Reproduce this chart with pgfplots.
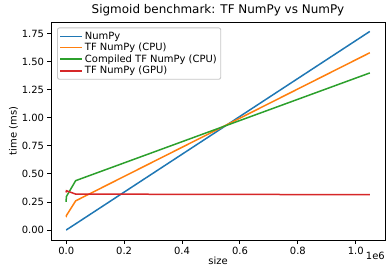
\documentclass[border=0pt]{standalone}
\usepackage{pgfplots}
\pgfplotsset{compat=1.18}
\usepackage{fontspec}
\setmainfont{DejaVu Sans}
\definecolor{tabblue}{HTML}{1F77B4}
\definecolor{taborange}{HTML}{FF7F0E}
\definecolor{tabgreen}{HTML}{2CA02C}
\definecolor{tabred}{HTML}{D62728}
\begin{document}
\begin{tikzpicture}
\begin{axis}[
  at={(0,0)}, anchor=south west,
  scale only axis,
  width=334bp, height=218bp,
  xmin=-52428, xmax=1101004,
  ymin=-0.089, ymax=1.854,
  scaled x ticks=false,
  xtick={0,200000,400000,600000,800000,1000000},
  xticklabels={0.0,0.2,0.4,0.6,0.8,1.0},
  ytick={0,0.25,0.5,0.75,1.0,1.25,1.5,1.75},
  yticklabels={0.00,0.25,0.50,0.75,1.00,1.25,1.50,1.75},
  tick align=outside, tick pos=left,
  major tick length=3.5bp,
  every tick/.style={black, line width=0.9bp},
  axis line style={black, line width=0.9bp},
  /pgf/number format/assume math mode=true,
  tick label style={font=\fontsize{10}{12}\selectfont},
  label style={font=\fontsize{10}{12}\selectfont},
  title style={font=\fontsize{12}{14}\selectfont, yshift=-3bp},
  title={Sigmoid benchmark: TF NumPy vs NumPy},
  xlabel={size}, ylabel={time (ms)},
  xlabel style={yshift=4bp},
  ylabel style={yshift=-3bp},
  legend style={at={(0.018,0.975)}, anchor=north west, draw=black!22, line width=0.9bp, rounded corners=2pt, fill=white, font=\fontsize{10}{12}\selectfont, inner sep=2pt, row sep=-1.5pt},
  legend cell align=left,
  legend image code/.code={\draw[#1, line width=1.5bp] (0bp,0bp) -- (22bp,0bp);},
  every axis plot/.append style={line width=1.5bp},
]
\addplot[color=tabblue, mark=none] coordinates {(1,0.001) (32,0.001) (1024,0.002) (32768,0.055) (1048576,1.77)};
\addlegendentry{NumPy}
\addplot[color=taborange, mark=none] coordinates {(1,0.12) (32,0.12) (1024,0.13) (32768,0.26) (1048576,1.58)};
\addlegendentry{TF NumPy (CPU)}
\addplot[color=tabgreen, mark=none] coordinates {(1,0.25) (32,0.27) (1024,0.30) (32768,0.44) (1048576,1.40)};
\addlegendentry{Compiled TF NumPy (CPU)}
\addplot[color=tabred, mark=none] coordinates {(1,0.345) (32,0.335) (1024,0.35) (32768,0.32) (1048576,0.315)};
\addlegendentry{TF NumPy (GPU)}
\coordinate (se) at (rel axis cs:1,0);
\end{axis}
\node[anchor=north east, font=\fontsize{10}{12}\selectfont, inner sep=0pt] at ([yshift=-12bp]se) {1e6};
\pgfresetboundingbox
\path[use as bounding box] (-51bp,-38bp) rectangle (341bp,240bp);
\end{tikzpicture}
\end{document}
